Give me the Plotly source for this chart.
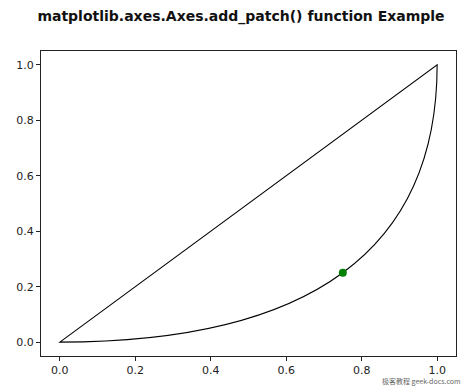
import plotly.graph_objects as go

# Path vertices: MOVETO, CURVE3 (control, end), CLOSEPOLY
path_x = [0.0, 1.0, 1.0]
path_y = [0.0, 0.0, 1.0]
point_x = [0.75]
point_y = [0.25]
tick_vals = [0.0, 0.2, 0.4, 0.6, 0.8, 1.0]
tick_text = ["0.0", "0.2", "0.4", "0.6", "0.8", "1.0"]
title = "matplotlib.axes.Axes.add_patch() function Example"

path = (f"M {path_x[0]} {path_y[0]} Q {path_x[1]} {path_y[1]} "
        f"{path_x[2]} {path_y[2]} Z")

fig = go.Figure()
fig.add_trace(go.Scatter(x=point_x, y=point_y, mode="markers",
                         marker=dict(color="green", size=8),
                         showlegend=False, hoverinfo="skip"))
fig.add_shape(type="path", path=path, xref="x", yref="y",
              line=dict(color="black", width=1.1), fillcolor="rgba(0,0,0,0)",
              layer="below")

axis_common = dict(range=[-0.05, 1.05], tickvals=tick_vals, ticktext=tick_text,
                   showgrid=False, zeroline=False, showline=True, mirror=True,
                   linecolor="#222", linewidth=1, ticks="outside", ticklen=4,
                   tickcolor="#222", tickwidth=1,
                   tickfont=dict(family="DejaVu Sans", size=11, color="#222"))

fig.update_layout(
    width=474, height=389,
    margin=dict(l=41, r=18, t=51, b=29),
    paper_bgcolor="white", plot_bgcolor="white",
    xaxis=axis_common, yaxis=axis_common,
    title=dict(text=f"<b>{title}</b>", x=241 / 474, xanchor="center",
               y=1 - 16 / 389, yanchor="middle",
               font=dict(family="DejaVu Sans", size=14, color="#111")),
    annotations=[dict(text="极客教程 geek-docs.com", xref="paper", yref="paper",
                      x=1.0, y=0, xanchor="right", yanchor="bottom", yshift=-31,
                      xshift=6, showarrow=False, borderpad=0,
                      font=dict(family="Noto Sans CJK SC", size=7, color="#666"))],
)

fig.write_html("out.html")
